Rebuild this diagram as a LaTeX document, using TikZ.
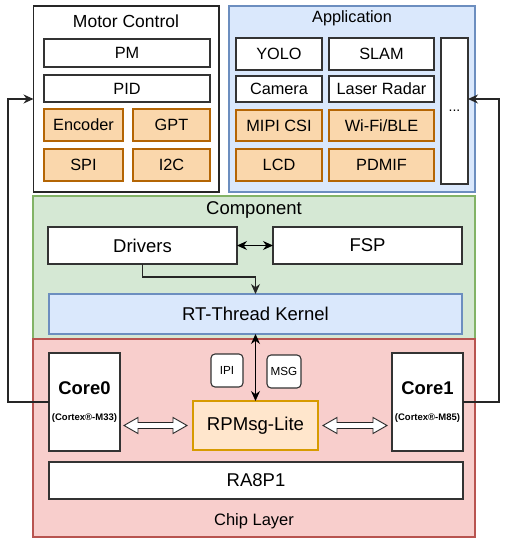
\documentclass[tikz,border=0pt]{standalone}
\usepackage{fontspec}
\setmainfont{Liberation Sans}
\usetikzlibrary{arrows.meta,calc}
\definecolor{bluef}{HTML}{DAE8FC}\definecolor{blued}{HTML}{6C8EBF}
\definecolor{greenf}{HTML}{D5E8D4}\definecolor{greend}{HTML}{82B366}
\definecolor{redf}{HTML}{F8CECC}\definecolor{redd}{HTML}{B85450}
\definecolor{orgf}{HTML}{FAD7AC}\definecolor{orgd}{HTML}{B46504}
\definecolor{lorgf}{HTML}{FFE6CC}\definecolor{lorgd}{HTML}{D79B00}
\newcommand\fs[1]{\fontsize{#1}{#1}\selectfont}
\newcommand\harrow[2]{%
  \path #1 coordinate (ha) #2 coordinate (hb);
  \draw[fill=white,line width=0.9pt,draw=black!85]
    (ha) -- ($(ha)+(14,-8)$) -- ($(ha)+(14,-3)$) -- ($(hb)+(-14,-3)$) -- ($(hb)+(-14,-8)$)
    -- (hb) -- ($(hb)+(-14,8)$) -- ($(hb)+(-14,3)$) -- ($(ha)+(14,3)$) -- ($(ha)+(14,8)$) -- cycle;}
\tikzset{
  base/.style={inner sep=0pt,outer sep=0pt,anchor=north west,line width=1.1pt},
  blk/.style={base,draw=black!80,fill=white,font=\fs{16.3}},
  org/.style={blk,draw=orgd,fill=orgf},
  cont/.style={base,draw=black!85,fill=white},
  bcont/.style={base,draw=blued,fill=bluef},
  gcont/.style={base,draw=greend,fill=greenf},
  rcont/.style={base,draw=redd,fill=redf},
  title/.style={inner sep=0pt,font=\fs{17.5}},
  big/.style={blk,font=\fs{18.5}},
  tag/.style={blk,rounded corners=4pt,font=\fs{11.7}},
  conn/.style={line width=1.1pt,draw=black!85,-{Stealth[length=10pt,width=9pt]}},
  dconn/.style={line width=1.1pt,draw=black,{Stealth[length=10pt,width=9pt]}-{Stealth[length=10pt,width=9pt]}},
}
\begin{document}
\begin{tikzpicture}[x=1pt,y=-1pt]
\useasboundingbox (0,0) rectangle (510,539);
% Motor Control
\node[cont,minimum width=185.5pt,minimum height=186pt] (mc) at (33.5,6) {};
\node[title] (mct) at (126,21.5) {Motor Control};
\node[blk,minimum width=166pt,minimum height=28pt] (pm) at (44,39) {PM};
\node[blk,minimum width=166pt,minimum height=27pt] (pid) at (44,75) {PID};
\node[org,minimum width=79pt,minimum height=32pt] (enc) at (44,109) {Encoder};
\node[org,minimum width=77pt,minimum height=32pt] (gpt) at (133,109) {GPT};
\node[org,minimum width=79pt,minimum height=32pt] (spi) at (44,149) {SPI};
\node[org,minimum width=77pt,minimum height=32pt] (i2c) at (133,149) {I2C};
% Application
\node[bcont,minimum width=246pt,minimum height=186pt] (app) at (229,6) {};
\node[title,font=\fs{16.3}] (appt) at (352,18.5) {Application};
\node[blk,minimum width=86pt,minimum height=32pt] (yolo) at (236,38) {YOLO};
\node[blk,minimum width=105pt,minimum height=32pt] (slam) at (329,38) {SLAM};
\node[blk,minimum width=86pt,minimum height=26pt] (cam) at (236,76) {Camera};
\node[blk,minimum width=105pt,minimum height=26pt] (lidar) at (329,76) {Laser Radar};
\node[org,minimum width=86pt,minimum height=31pt] (mipi) at (236,110) {MIPI CSI};
\node[org,minimum width=105pt,minimum height=31pt] (wifi) at (329,110) {Wi-Fi/BLE};
\node[org,minimum width=86pt,minimum height=32pt] (lcd) at (236,149) {LCD};
\node[org,minimum width=105pt,minimum height=32pt] (pdm) at (329,149) {PDMIF};
\node[blk,minimum width=27pt,minimum height=146pt,font=\fs{14}] (dots) at (441,38) {...};
% Component
\node[gcont,minimum width=442pt,minimum height=143pt] (comp) at (33,196) {};
\node[title,font=\fs{18.5}] (compt) at (254,210) {Component};
\node[big,minimum width=189pt,minimum height=37pt] (drv) at (48,227) {Drivers};
\node[big,minimum width=189pt,minimum height=37pt] (fsp) at (273,227) {FSP};
\node[base,draw=blued,fill=bluef,font=\fs{18.5},minimum width=413pt,minimum height=40pt] (kern) at (49,294) {RT-Thread Kernel};
% Chip layer
\node[rcont,minimum width=442pt,minimum height=198pt] (chip) at (33,339) {};
\node[title,font=\fs{16.5}] (chipt) at (254,521) {Chip Layer};
\node[blk,minimum width=71pt,minimum height=98pt,align=center] (c0) at (49,353)
  {{\fs{18.4}\bfseries Core0}\\[10pt]{\fs{9.5}\bfseries (Cortex®-M33)}};
\node[blk,minimum width=71pt,minimum height=98pt,align=center] (c1) at (392,353)
  {{\fs{18.4}\bfseries Core1}\\[10pt]{\fs{9.5}\bfseries (Cortex®-M85)}};
\node[tag,minimum width=32pt,minimum height=33pt] (ipi) at (211,354) {IPI};
\node[tag,minimum width=34pt,minimum height=33pt] (msg) at (267,355) {MSG};
\node[base,draw=lorgd,fill=lorgf,font=\fs{18.6},minimum width=125pt,minimum height=49pt] (rpm) at (193,401) {RPMsg-Lite};
\node[big,minimum width=414pt,minimum height=37pt] (ra) at (49,462) {RA8P1};
% connectors
\draw[dconn] (drv.east) -- (fsp.west);
\draw[conn] (drv.south) -- ++(0,13) -| (kern.north);
\draw[dconn] (kern.south) -- (rpm.north);
\draw[conn] (c0.west) -- ++(-41,0) |- (mc.west);
\coordinate (dt) at (dots.east |- mc.west);
\draw[conn] (c1.east) -- ++(36,0) |- (dt);
\harrow{($(c0.east |- rpm.west)+(4,0)$)}{($(rpm.west)+(-6,0)$)}
\harrow{($(rpm.east)+(5,0)$)}{($(c1.west |- rpm.east)+(-5,0)$)}
\end{tikzpicture}
\end{document}
